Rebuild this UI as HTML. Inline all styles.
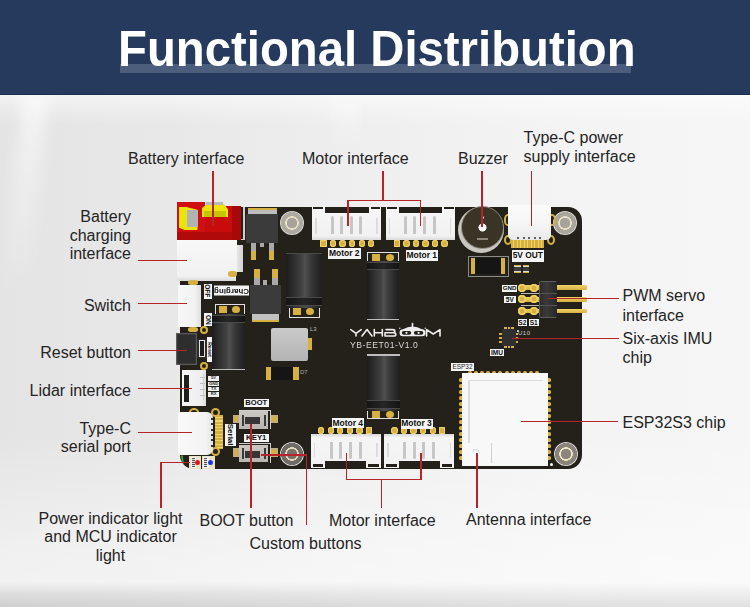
<!DOCTYPE html>
<html><head><meta charset="utf-8">
<style>
*{margin:0;padding:0;box-sizing:border-box}
html,body{width:750px;height:607px;overflow:hidden}
body{position:relative;font-family:"Liberation Sans",sans-serif;background:#ececec}
.a{position:absolute}
#bg{left:0;top:94px;width:750px;height:513px;background:linear-gradient(90deg,#e4e4e4 0%,#e8e8e8 22%,#eeeeee 45%,#f3f3f3 70%,#f6f6f6 100%)}
#bgb{left:0;top:94px;width:750px;height:513px;background:linear-gradient(180deg,rgba(255,255,255,0.55) 0px,rgba(255,255,255,0) 30px,rgba(255,255,255,0) 340px,rgba(255,255,255,0.45) 460px,rgba(255,255,255,0.5) 488px,rgba(0,0,0,0.03) 500px,rgba(0,0,0,0.09) 513px)}
#hdr{left:0;top:0;width:750px;height:95px;background:#263a5e;border-bottom:1px solid #1d2d4d}
#bar{left:120px;top:63.5px;width:511px;height:9.5px;background:#4d5e7c}
#title{left:118px;top:18.5px;font-weight:bold;font-size:50px;line-height:60px;color:#fff;white-space:nowrap;transform:scaleX(0.946);transform-origin:0 0}
.t{position:absolute;font-size:16px;line-height:19px;color:#242424;white-space:nowrap}
.r{text-align:right}
.c{text-align:center}
.ln{position:absolute;background:#b8232a}
.h{height:1.5px}
.v{width:1.5px}
#board{left:180px;top:206.5px;width:402px;height:262.5px;background:#24211a;border-radius:14px}
.hole{position:absolute;border-radius:50%;background:radial-gradient(circle,#a8a49a 0 4px,#c9a83e 4px 6.5px,#a39f95 6.5px 9px,#8c887e 9px 12px)}
.lbl{position:absolute;background:#f5f5f5;color:#111;font-weight:bold;font-size:8.5px;line-height:10px;text-align:center;white-space:nowrap;overflow:hidden}
.wc{position:absolute;background:#f2f2f2}
.cap{position:absolute;background:linear-gradient(90deg,#232323 0%,#3a3a3a 45%,#444 55%,#2a2a2a 100%)}
</style></head><body>
<div id="bg" class="a"></div>
<div id="bgb" class="a"></div>
<div class="a" style="left:12px;top:95px;width:26px;height:200px;background:linear-gradient(180deg,rgba(255,255,255,0.55),rgba(255,255,255,0));filter:blur(6px);transform:skewX(-6deg)"></div>
<div class="a" style="left:330px;top:95px;width:30px;height:60px;background:linear-gradient(180deg,rgba(255,255,255,0.35),rgba(255,255,255,0));filter:blur(6px)"></div>
<div id="hdr" class="a"></div>
<div id="bar" class="a"></div>
<div id="title" class="a">Functional Distribution</div>

<!-- board -->
<div id="board" class="a"></div>
<div class="a" style="left:243.00px;top:207.00px;width:2.00px;height:32.00px;background:#cfcfcf"></div>
<div class="a" style="left:236.00px;top:238.50px;width:9.00px;height:1.50px;background:#cfcfcf"></div>
<div class="a" style="left:177.00px;top:201.50px;width:28.00px;height:38.00px;background:#d01010"></div>
<div class="a" style="left:205.00px;top:205.50px;width:35.50px;height:34.00px;background:#c80c0c"></div>
<div class="a" style="left:177.00px;top:232.00px;width:63.50px;height:7.50px;background:#b00a0a"></div>
<div class="a" style="left:232.00px;top:205.50px;width:8.50px;height:34.00px;background:#a80808"></div>
<div class="a" style="left:179.00px;top:207.00px;width:18.50px;height:23.00px;background:#e9e40a;clip-path:polygon(0 0,40% 0,100% 12%,100% 100%,30% 100%,0 90%)"></div>
<div class="a" style="left:186.50px;top:210.00px;width:11.00px;height:17.00px;background:#b2b2b2"></div>
<div class="a" style="left:202.00px;top:203.00px;width:26.00px;height:14.00px;background:#eee60a;clip-path:polygon(0 35%,25% 0,80% 0,100% 45%,100% 100%,0 100%)"></div>
<div class="a" style="left:206.00px;top:202.00px;width:16.50px;height:3.00px;background:#b8b8b8"></div>
<div class="a" style="left:204.00px;top:211.00px;width:22.00px;height:6.00px;background:#c9c40a"></div>
<div class="a" style="left:176.50px;top:239.50px;width:60.50px;height:41.50px;background:linear-gradient(180deg,#f8f8f8 0%,#f1f1f1 88%,#d9d9d9 100%)"></div>
<div class="a" style="left:237.00px;top:245.00px;width:6.00px;height:27.00px;background:linear-gradient(90deg,#e6e6e6,#d2d2d2)"></div>
<div class="a" style="left:236.00px;top:273.00px;width:8.00px;height:8.00px;background:#24211a"></div>
<div class="a" style="left:227.50px;top:270.50px;width:9.00px;height:6.00px;background:#d6b041;border-radius:40%"></div>
<div class="a" style="left:247.50px;top:207.50px;width:29.50px;height:7.00px;background:#bdbdbd;border-top:2px solid #d6b041"></div>
<div class="a" style="left:245.50px;top:214.00px;width:32.50px;height:29.00px;background:#3b3b3b"></div>
<div class="a" style="left:250.50px;top:243.00px;width:5.50px;height:8.00px;background:#a9a9a9"></div>
<div class="a" style="left:250.50px;top:251.00px;width:5.50px;height:9.00px;background:#d6b041"></div>
<div class="a" style="left:268.50px;top:243.00px;width:5.50px;height:8.00px;background:#a9a9a9"></div>
<div class="a" style="left:268.50px;top:251.00px;width:5.50px;height:9.00px;background:#d6b041"></div>
<div class="a" style="left:259.50px;top:243.00px;width:4.00px;height:4.00px;background:#a9a9a9"></div>
<div class="lbl" style="left:280.00px;top:206.50px;width:5.00px;height:5.50px;font-size:6px;line-height:5.5px;letter-spacing:0px;background:transparent"></div>
<div class="a" style="left:280.30px;top:210.80px;width:24.00px;height:24.00px;border-radius:50%;background:radial-gradient(circle at 50% 50%,#a7a39c 0 5px,#e9dfc4 5.3px 6.6px,#aeaaa2 7px 10.8px,#d8d6d0 11.2px 12px)"></div>
<div class="a" style="left:553.00px;top:210.80px;width:24.00px;height:24.00px;border-radius:50%;background:radial-gradient(circle at 50% 50%,#a7a39c 0 5px,#e9dfc4 5.3px 6.6px,#aaa69e 7px 10.8px,#d8d6d0 11.2px 12px)"></div>
<div class="a" style="left:280.30px;top:441.60px;width:24.00px;height:24.00px;border-radius:50%;background:radial-gradient(circle at 50% 50%,#76726c 0 5px,#e6d9b8 5.3px 6.6px,#6f6b66 7px 10.8px,#d8d6d0 11.2px 12px)"></div>
<div class="a" style="left:553.80px;top:441.60px;width:24.00px;height:24.00px;border-radius:50%;background:radial-gradient(circle at 50% 50%,#8c867e 0 5px,#efe4c4 5.3px 6.6px,#8a847c 7px 10.8px,#d8d6d0 11.2px 12px)"></div>
<div class="a" style="left:312.20px;top:207.00px;width:69.00px;height:32.50px;background:linear-gradient(180deg,#f7f7f7 0%,#f1f1f1 88%,#dadada 100%)"></div>
<div class="a" style="left:325.20px;top:207.00px;width:43.50px;height:5.50px;background:#24211a"></div>
<div class="a" style="left:313.20px;top:207.00px;width:10.00px;height:1.80px;background:#24211a"></div>
<div class="a" style="left:370.70px;top:207.00px;width:9.50px;height:1.80px;background:#24211a"></div>
<div class="a" style="left:330.50px;top:216.00px;width:3.00px;height:18.00px;background:#c6c6c6;border-radius:1.5px 1.5px 0 0"></div>
<div class="a" style="left:340.10px;top:216.00px;width:3.00px;height:18.00px;background:#c6c6c6;border-radius:1.5px 1.5px 0 0"></div>
<div class="a" style="left:349.70px;top:216.00px;width:3.00px;height:18.00px;background:#c6c6c6;border-radius:1.5px 1.5px 0 0"></div>
<div class="a" style="left:359.30px;top:216.00px;width:3.00px;height:18.00px;background:#c6c6c6;border-radius:1.5px 1.5px 0 0"></div>
<div class="a" style="left:315.20px;top:218.00px;width:1.50px;height:16.00px;background:#dcdcdc"></div>
<div class="a" style="left:376.20px;top:218.00px;width:1.50px;height:16.00px;background:#dcdcdc"></div>
<div class="a" style="left:320.30px;top:239.50px;width:6.40px;height:7.00px;background:#d6b041;border-radius:1px;box-shadow:inset 0 0 0 1px #f0d468"></div>
<div class="a" style="left:329.85px;top:239.50px;width:6.40px;height:7.00px;background:#d6b041;border-radius:50%;box-shadow:inset 0 0 0 1px #f0d468"></div>
<div class="a" style="left:339.40px;top:239.50px;width:6.40px;height:7.00px;background:#d6b041;border-radius:50%;box-shadow:inset 0 0 0 1px #f0d468"></div>
<div class="a" style="left:348.95px;top:239.50px;width:6.40px;height:7.00px;background:#d6b041;border-radius:50%;box-shadow:inset 0 0 0 1px #f0d468"></div>
<div class="a" style="left:358.50px;top:239.50px;width:6.40px;height:7.00px;background:#d6b041;border-radius:50%;box-shadow:inset 0 0 0 1px #f0d468"></div>
<div class="a" style="left:368.05px;top:239.50px;width:6.40px;height:7.00px;background:#d6b041;border-radius:50%;box-shadow:inset 0 0 0 1px #f0d468"></div>
<div class="a" style="left:385.50px;top:207.00px;width:69.00px;height:32.50px;background:linear-gradient(180deg,#f7f7f7 0%,#f1f1f1 88%,#dadada 100%)"></div>
<div class="a" style="left:398.50px;top:207.00px;width:43.50px;height:5.50px;background:#24211a"></div>
<div class="a" style="left:386.50px;top:207.00px;width:10.00px;height:1.80px;background:#24211a"></div>
<div class="a" style="left:444.00px;top:207.00px;width:9.50px;height:1.80px;background:#24211a"></div>
<div class="a" style="left:403.80px;top:216.00px;width:3.00px;height:18.00px;background:#c6c6c6;border-radius:1.5px 1.5px 0 0"></div>
<div class="a" style="left:413.40px;top:216.00px;width:3.00px;height:18.00px;background:#c6c6c6;border-radius:1.5px 1.5px 0 0"></div>
<div class="a" style="left:423.00px;top:216.00px;width:3.00px;height:18.00px;background:#c6c6c6;border-radius:1.5px 1.5px 0 0"></div>
<div class="a" style="left:432.60px;top:216.00px;width:3.00px;height:18.00px;background:#c6c6c6;border-radius:1.5px 1.5px 0 0"></div>
<div class="a" style="left:388.50px;top:218.00px;width:1.50px;height:16.00px;background:#dcdcdc"></div>
<div class="a" style="left:449.50px;top:218.00px;width:1.50px;height:16.00px;background:#dcdcdc"></div>
<div class="a" style="left:393.60px;top:239.50px;width:6.40px;height:7.00px;background:#d6b041;border-radius:1px;box-shadow:inset 0 0 0 1px #f0d468"></div>
<div class="a" style="left:403.15px;top:239.50px;width:6.40px;height:7.00px;background:#d6b041;border-radius:50%;box-shadow:inset 0 0 0 1px #f0d468"></div>
<div class="a" style="left:412.70px;top:239.50px;width:6.40px;height:7.00px;background:#d6b041;border-radius:50%;box-shadow:inset 0 0 0 1px #f0d468"></div>
<div class="a" style="left:422.25px;top:239.50px;width:6.40px;height:7.00px;background:#d6b041;border-radius:50%;box-shadow:inset 0 0 0 1px #f0d468"></div>
<div class="a" style="left:431.80px;top:239.50px;width:6.40px;height:7.00px;background:#d6b041;border-radius:50%;box-shadow:inset 0 0 0 1px #f0d468"></div>
<div class="a" style="left:441.35px;top:239.50px;width:6.40px;height:7.00px;background:#d6b041;border-radius:50%;box-shadow:inset 0 0 0 1px #f0d468"></div>
<div class="a" style="left:310.70px;top:433.50px;width:70.00px;height:34.50px;background:linear-gradient(180deg,#d9d9d9 0%,#f5f5f5 11%,#f2f2f2 100%)"></div>
<div class="a" style="left:325.20px;top:460.70px;width:41.00px;height:8.30px;background:#24211a"></div>
<div class="a" style="left:312.70px;top:463.80px;width:10.50px;height:3.40px;background:#24211a"></div>
<div class="a" style="left:368.20px;top:463.80px;width:10.50px;height:3.40px;background:#24211a"></div>
<div class="a" style="left:329.70px;top:441.50px;width:3.00px;height:17.00px;background:#c6c6c6;border-radius:0 0 1.5px 1.5px"></div>
<div class="a" style="left:339.30px;top:441.50px;width:3.00px;height:17.00px;background:#c6c6c6;border-radius:0 0 1.5px 1.5px"></div>
<div class="a" style="left:348.90px;top:441.50px;width:3.00px;height:17.00px;background:#c6c6c6;border-radius:0 0 1.5px 1.5px"></div>
<div class="a" style="left:358.50px;top:441.50px;width:3.00px;height:17.00px;background:#c6c6c6;border-radius:0 0 1.5px 1.5px"></div>
<div class="a" style="left:313.70px;top:442.50px;width:1.50px;height:14.00px;background:#dcdcdc"></div>
<div class="a" style="left:376.20px;top:442.50px;width:1.50px;height:14.00px;background:#dcdcdc"></div>
<div class="a" style="left:318.00px;top:427.00px;width:6.40px;height:7.00px;background:#d6b041;border-radius:50%;box-shadow:inset 0 0 0 1px #f0d468"></div>
<div class="a" style="left:327.55px;top:427.00px;width:6.40px;height:7.00px;background:#d6b041;border-radius:50%;box-shadow:inset 0 0 0 1px #f0d468"></div>
<div class="a" style="left:337.10px;top:427.00px;width:6.40px;height:7.00px;background:#d6b041;border-radius:50%;box-shadow:inset 0 0 0 1px #f0d468"></div>
<div class="a" style="left:346.65px;top:427.00px;width:6.40px;height:7.00px;background:#d6b041;border-radius:50%;box-shadow:inset 0 0 0 1px #f0d468"></div>
<div class="a" style="left:356.20px;top:427.00px;width:6.40px;height:7.00px;background:#d6b041;border-radius:50%;box-shadow:inset 0 0 0 1px #f0d468"></div>
<div class="a" style="left:365.75px;top:427.00px;width:6.40px;height:7.00px;background:#d6b041;border-radius:1px;box-shadow:inset 0 0 0 1px #f0d468"></div>
<div class="a" style="left:384.00px;top:433.50px;width:70.00px;height:34.50px;background:linear-gradient(180deg,#d9d9d9 0%,#f5f5f5 11%,#f2f2f2 100%)"></div>
<div class="a" style="left:398.50px;top:460.70px;width:41.00px;height:8.30px;background:#24211a"></div>
<div class="a" style="left:386.00px;top:463.80px;width:10.50px;height:3.40px;background:#24211a"></div>
<div class="a" style="left:441.50px;top:463.80px;width:10.50px;height:3.40px;background:#24211a"></div>
<div class="a" style="left:403.00px;top:441.50px;width:3.00px;height:17.00px;background:#c6c6c6;border-radius:0 0 1.5px 1.5px"></div>
<div class="a" style="left:412.60px;top:441.50px;width:3.00px;height:17.00px;background:#c6c6c6;border-radius:0 0 1.5px 1.5px"></div>
<div class="a" style="left:422.20px;top:441.50px;width:3.00px;height:17.00px;background:#c6c6c6;border-radius:0 0 1.5px 1.5px"></div>
<div class="a" style="left:431.80px;top:441.50px;width:3.00px;height:17.00px;background:#c6c6c6;border-radius:0 0 1.5px 1.5px"></div>
<div class="a" style="left:387.00px;top:442.50px;width:1.50px;height:14.00px;background:#dcdcdc"></div>
<div class="a" style="left:449.50px;top:442.50px;width:1.50px;height:14.00px;background:#dcdcdc"></div>
<div class="a" style="left:391.30px;top:427.00px;width:6.40px;height:7.00px;background:#d6b041;border-radius:50%;box-shadow:inset 0 0 0 1px #f0d468"></div>
<div class="a" style="left:400.85px;top:427.00px;width:6.40px;height:7.00px;background:#d6b041;border-radius:50%;box-shadow:inset 0 0 0 1px #f0d468"></div>
<div class="a" style="left:410.40px;top:427.00px;width:6.40px;height:7.00px;background:#d6b041;border-radius:50%;box-shadow:inset 0 0 0 1px #f0d468"></div>
<div class="a" style="left:419.95px;top:427.00px;width:6.40px;height:7.00px;background:#d6b041;border-radius:50%;box-shadow:inset 0 0 0 1px #f0d468"></div>
<div class="a" style="left:429.50px;top:427.00px;width:6.40px;height:7.00px;background:#d6b041;border-radius:50%;box-shadow:inset 0 0 0 1px #f0d468"></div>
<div class="a" style="left:439.05px;top:427.00px;width:6.40px;height:7.00px;background:#d6b041;border-radius:1px;box-shadow:inset 0 0 0 1px #f0d468"></div>
<div class="lbl" style="left:328.00px;top:248.00px;width:32.50px;height:11.00px;font-size:8.5px;line-height:11px;letter-spacing:0px;">Motor 2</div>
<div class="lbl" style="left:406.00px;top:250.00px;width:31.50px;height:10.50px;font-size:8.5px;line-height:10.5px;letter-spacing:0px;">Motor 1</div>
<div class="lbl" style="left:332.00px;top:417.50px;width:31.50px;height:10.00px;font-size:8.5px;line-height:10.0px;letter-spacing:0px;">Motor 4</div>
<div class="lbl" style="left:400.50px;top:419.00px;width:32.00px;height:9.50px;font-size:8.5px;line-height:9.5px;letter-spacing:0px;">Motor 3</div>
<div class="a" style="left:457.50px;top:206.50px;width:46.00px;height:46.00px;background:#c9c7c1;border-radius:50%"></div>
<div class="a" style="left:461.00px;top:205.50px;width:43.00px;height:43.00px;background:radial-gradient(circle at 50% 50%,#f7f8fa 0 3.8px,#3a3426 4.3px);border-radius:50%;border:1px solid #8d887c"></div>
<div class="a" style="left:477.00px;top:238.00px;width:11.00px;height:2.00px;background:#8a8678"></div>
<div class="a" style="left:481.00px;top:216.00px;width:3.00px;height:3.00px;background:#ddd;border-radius:50%"></div>
<div class="a" style="left:511.00px;top:239.00px;width:33.00px;height:8.50px;background:repeating-linear-gradient(90deg,#d6b041 0 2.5px,#f0d468 2.5px 3.5px)"></div>
<div class="a" style="left:503.50px;top:213.50px;width:7.50px;height:12.00px;border:2px solid #d6b041;border-radius:50%"></div>
<div class="a" style="left:548.00px;top:213.50px;width:7.50px;height:12.00px;border:2px solid #d6b041;border-radius:50%"></div>
<div class="a" style="left:504.00px;top:235.00px;width:8.00px;height:10.00px;border:2px solid #d6b041;border-radius:50%"></div>
<div class="a" style="left:547.00px;top:235.00px;width:8.00px;height:10.00px;border:2px solid #d6b041;border-radius:50%"></div>
<div class="a" style="left:507.50px;top:205.00px;width:43.50px;height:34.50px;background:linear-gradient(180deg,#fbfbfb 0%,#f4f4f4 60%,#e9e9e9 100%);border-radius:0 0 5px 5px"></div>
<div class="a" style="left:517.00px;top:237.00px;width:2.00px;height:2.00px;background:#333;border-radius:50%"></div>
<div class="a" style="left:522.50px;top:237.00px;width:2.00px;height:2.00px;background:#333;border-radius:50%"></div>
<div class="a" style="left:528.00px;top:237.00px;width:2.00px;height:2.00px;background:#333;border-radius:50%"></div>
<div class="a" style="left:533.50px;top:237.00px;width:2.00px;height:2.00px;background:#333;border-radius:50%"></div>
<div class="a" style="left:539.00px;top:237.00px;width:2.00px;height:2.00px;background:#333;border-radius:50%"></div>
<div class="lbl" style="left:511.50px;top:250.00px;width:32.50px;height:11.50px;font-size:8.4px;line-height:11.5px;letter-spacing:0px;">5V OUT</div>
<div class="a" style="left:467.50px;top:255.50px;width:41.50px;height:21.00px;border:1.2px solid #8a8a8a;background:#24211a"></div>
<div class="a" style="left:471.00px;top:258.00px;width:34.00px;height:16.00px;background:linear-gradient(90deg,#d6b041 0 4px,#151515 4px 30px,#d6b041 30px)"></div>
<div class="a" style="left:514.00px;top:264.50px;width:6.50px;height:8.50px;background:linear-gradient(180deg,#d8d8d8 0 2px,#3a3a3a 2px 6.5px,#d8d8d8 6.5px)"></div>
<div class="a" style="left:514.00px;top:264.50px;width:6.50px;height:1.30px;background:#d6b041"></div>
<div class="a" style="left:514.00px;top:271.70px;width:6.50px;height:1.30px;background:#d6b041"></div>
<div class="a" style="left:522.50px;top:264.50px;width:6.50px;height:8.50px;background:linear-gradient(180deg,#d8d8d8 0 2px,#3a3a3a 2px 6.5px,#d8d8d8 6.5px)"></div>
<div class="a" style="left:522.50px;top:264.50px;width:6.50px;height:1.30px;background:#d6b041"></div>
<div class="a" style="left:522.50px;top:271.70px;width:6.50px;height:1.30px;background:#d6b041"></div>
<div class="a" style="left:286.00px;top:252.50px;width:35.50px;height:55.50px;background:linear-gradient(90deg,#1c1c1c 0%,#2c2c2c 18%,#404040 42%,#505050 52%,#383838 70%,#1e1e1e 100%);border-radius:1px"></div>
<div class="a" style="left:286.00px;top:252.50px;width:35.50px;height:1.50px;background:#4a4a4a"></div>
<div class="a" style="left:286.00px;top:297.00px;width:35.50px;height:9.00px;background:linear-gradient(90deg,#141414,#262626 50%,#141414);border-top:1px solid #4a4a4a;border-bottom:1px solid #4a4a4a"></div>
<div class="a" style="left:288.50px;top:308.00px;width:31.00px;height:10.00px;border:1.2px solid #e0e0e0;border-top:none;background:#24211a"></div>
<div class="a" style="left:293.15px;top:308.00px;width:7.75px;height:7.00px;background:#d6b041"></div>
<div class="a" style="left:306.48px;top:308.00px;width:7.75px;height:7.00px;background:#d6b041;border-radius:50%"></div>
<div class="a" style="left:254.00px;top:269.00px;width:6.00px;height:9.00px;background:#d6b041"></div>
<div class="a" style="left:254.00px;top:278.00px;width:6.00px;height:7.00px;background:#a9a9a9"></div>
<div class="a" style="left:272.00px;top:269.00px;width:6.00px;height:9.00px;background:#d6b041"></div>
<div class="a" style="left:272.00px;top:278.00px;width:6.00px;height:7.00px;background:#a9a9a9"></div>
<div class="a" style="left:262.50px;top:280.00px;width:4.50px;height:5.00px;background:#a9a9a9"></div>
<div class="a" style="left:249.50px;top:284.50px;width:31.50px;height:29.50px;background:#3b3b3b"></div>
<div class="a" style="left:252.00px;top:314.00px;width:27.00px;height:7.50px;background:#c2c2c2;border-bottom:2.5px solid #d6b041"></div>
<div class="a" style="left:170.00px;top:298.50px;width:8.00px;height:5.00px;background:#eaeaea"></div>
<div class="a" style="left:178.00px;top:284.50px;width:22.50px;height:42.50px;background:linear-gradient(90deg,#f8f8f8 0%,#f1f1f1 75%,#dedede 100%)"></div>
<div class="a" style="left:188.00px;top:280.00px;width:10.00px;height:5.00px;background:#d6b041;border-radius:40%"></div>
<div class="a" style="left:188.00px;top:326.50px;width:10.00px;height:5.00px;background:#d6b041;border-radius:40%"></div>
<div class="a" style="left:204.00px;top:283.50px;width:7.50px;height:15.00px;background:#f5f5f5;overflow:hidden"><div style="position:absolute;left:-3.75px;top:3.75px;width:15.00px;height:7.50px;line-height:7.50px;font-size:6.5px;font-weight:bold;color:#111;text-align:center;white-space:nowrap;transform:rotate(90deg)">OFF</div></div>
<div class="a" style="left:204.00px;top:312.50px;width:7.50px;height:13.50px;background:#f5f5f5;overflow:hidden"><div style="position:absolute;left:-3.00px;top:3.00px;width:13.50px;height:7.50px;line-height:7.50px;font-size:6.5px;font-weight:bold;color:#111;text-align:center;white-space:nowrap;transform:rotate(90deg)">ON</div></div>
<div class="lbl" style="left:214.00px;top:285.50px;width:35.00px;height:9.50px;font-size:7.8px;line-height:9.5px;letter-spacing:0.1px;transform:rotate(180deg)">Charging</div>
<div class="a" style="left:214.50px;top:304.00px;width:30.50px;height:10.00px;border:1.2px solid #e0e0e0;border-bottom:none;background:#24211a"></div>
<div class="a" style="left:219.07px;top:306.00px;width:7.62px;height:7.00px;background:#d6b041"></div>
<div class="a" style="left:232.19px;top:306.00px;width:7.62px;height:7.00px;background:#d6b041;border-radius:50%"></div>
<div class="a" style="left:211.50px;top:313.90px;width:33.00px;height:56.50px;background:linear-gradient(90deg,#1c1c1c 0%,#2c2c2c 18%,#404040 42%,#505050 52%,#383838 70%,#1e1e1e 100%);border-radius:1px"></div>
<div class="a" style="left:211.50px;top:368.90px;width:33.00px;height:1.50px;background:#bdbdbd"></div>
<div class="a" style="left:211.50px;top:314.90px;width:33.00px;height:8.00px;background:linear-gradient(90deg,#141414,#262626 50%,#141414);border-bottom:1px solid #4a4a4a;border-top:1px solid #4a4a4a"></div>
<div class="a" style="left:170.00px;top:341.00px;width:6.50px;height:14.00px;background:#e9e9e9"></div>
<div class="a" style="left:176.30px;top:333.40px;width:21.00px;height:31.60px;background:#2e2e2e;box-shadow:inset 0 0 0 1.2px #5a5a5a"></div>
<div class="a" style="left:197.30px;top:338.90px;width:9.70px;height:19.50px;background:#2e2e2e"></div>
<div class="a" style="left:198.60px;top:340.20px;width:6.40px;height:17.00px;border:1.2px solid #e0e0e0;background:#1c1c1c"></div>
<div class="a" style="left:199.80px;top:326.20px;width:8.00px;height:8.00px;border:2px solid #d6b041;border-radius:50%;background:#24211a"></div>
<div class="a" style="left:199.80px;top:362.00px;width:8.00px;height:8.00px;border:2px solid #d6b041;border-radius:50%;background:#24211a"></div>
<div class="a" style="left:207.00px;top:336.70px;width:4.80px;height:25.00px;background:#f5f5f5;overflow:hidden"><div style="position:absolute;left:-10.10px;top:10.10px;width:25.00px;height:4.80px;line-height:4.80px;font-size:5.5px;font-weight:bold;color:#111;text-align:center;white-space:nowrap;transform:rotate(90deg)">Reset</div></div>
<div class="a" style="left:307.00px;top:338.00px;width:4.50px;height:12.00px;background:#d6b041"></div>
<div class="a" style="left:270.50px;top:327.50px;width:37.00px;height:33.00px;background:linear-gradient(180deg,#cacaca 0%,#b3b3b3 100%);border-radius:2px"></div>
<div class="a" style="left:310.00px;top:326.00px;width:8.00px;height:7.00px;color:#bbb;font-size:6px;line-height:7px">L3</div>
<div class="a" style="left:266.00px;top:367.00px;width:33.00px;height:13.00px;background:linear-gradient(90deg,#d6b041 0 5.5px,#151515 5.5px 27.5px,#d6b041 27.5px)"></div>
<div class="a" style="left:300.00px;top:368.00px;width:10.00px;height:9.00px;color:#aaa;font-size:6px;line-height:9px">D7</div>
<div class="a" style="left:367.00px;top:252.00px;width:32.00px;height:9.00px;border:1.2px solid #e0e0e0;border-bottom:none;background:#24211a"></div>
<div class="a" style="left:371.80px;top:254.00px;width:8.00px;height:7.00px;background:#d6b041"></div>
<div class="a" style="left:385.56px;top:254.00px;width:8.00px;height:7.00px;background:#d6b041;border-radius:50%"></div>
<div class="a" style="left:367.00px;top:260.80px;width:32.00px;height:59.20px;background:linear-gradient(90deg,#1c1c1c 0%,#2c2c2c 18%,#404040 42%,#505050 52%,#383838 70%,#1e1e1e 100%);border-radius:1px"></div>
<div class="a" style="left:367.00px;top:318.50px;width:32.00px;height:1.50px;background:#bdbdbd"></div>
<div class="a" style="left:367.00px;top:261.80px;width:32.00px;height:8.00px;background:linear-gradient(90deg,#141414,#262626 50%,#141414);border-bottom:1px solid #4a4a4a;border-top:1px solid #4a4a4a"></div>
<div class="a" style="left:366.50px;top:354.40px;width:33.30px;height:56.60px;background:linear-gradient(90deg,#1c1c1c 0%,#2c2c2c 18%,#404040 42%,#505050 52%,#383838 70%,#1e1e1e 100%);border-radius:1px"></div>
<div class="a" style="left:366.50px;top:354.40px;width:33.30px;height:1.50px;background:#bdbdbd"></div>
<div class="a" style="left:366.50px;top:400.00px;width:33.30px;height:9.00px;background:linear-gradient(90deg,#141414,#262626 50%,#141414);border-top:1px solid #4a4a4a;border-bottom:1px solid #4a4a4a"></div>
<div class="a" style="left:367.00px;top:411.00px;width:32.00px;height:8.40px;border:1.2px solid #e0e0e0;border-top:none;background:#24211a"></div>
<div class="a" style="left:371.80px;top:411.00px;width:8.00px;height:7.00px;background:#d6b041"></div>
<div class="a" style="left:385.56px;top:411.00px;width:8.00px;height:7.00px;background:#d6b041;border-radius:50%"></div>
<svg class="a" style="left:345px;top:318px" width="100" height="24" viewBox="345 318 100 24">
<g fill="none" stroke="#eeeeee" stroke-width="1.6" stroke-linejoin="round" stroke-linecap="round">
<path d="M350.8 329.6 L356 333.4 L361.2 329.6 M356 333.4 V336"/>
<path d="M362 336 L367 329.6 L372 336"/>
<path d="M374.3 329.6 V336 M382.3 329.6 V336 M374.3 332.8 H382.3"/>
<path d="M385 332.8 V336 H393.8 Q395.8 336 395.8 334.4 Q395.8 332.8 393.8 332.8 H385 M386 329.6 H392.8 Q394.8 329.6 394.8 331.2 Q394.8 332.8 392.8 332.8"/>
<path d="M426.6 336 V329.6 L433.3 334 L440 329.6 V336"/>
<path d="M412.5 323.5 V326.5"/>
</g>
<path d="M399.5 332.7 Q399.5 329.2 403 329.2 Q412.5 323.8 422 329.2 Q425.6 329.2 425.6 332.7 Q425.6 336.2 422 336.2 H403 Q399.5 336.2 399.5 332.7 Z" fill="#eeeeee"/>
<rect x="401.8" y="330.9" width="9.4" height="3.9" rx="1.95" fill="#24211a"/>
<rect x="413.9" y="330.9" width="9.4" height="3.9" rx="1.95" fill="#24211a"/>
<circle cx="406.5" cy="332.85" r="1.1" fill="#eeeeee"/>
<circle cx="418.6" cy="332.85" r="1.1" fill="#eeeeee"/>
<circle cx="399.8" cy="328.2" r="0.7" fill="#eeeeee"/>
<circle cx="425.2" cy="328.2" r="0.7" fill="#eeeeee"/>
</svg>
<div class="a" style="left:350.00px;top:339.50px;width:80.00px;height:10.50px;color:#d8d8d8;font-size:8.6px;line-height:10px;letter-spacing:0.55px;white-space:nowrap;transform:scaleY(0.95)">YB-EET01-V1.0</div>
<div class="a" style="left:520.00px;top:285.30px;width:66.50px;height:4.60px;background:linear-gradient(180deg,#f0d468,#d6b041);border-radius:2px"></div>
<div class="a" style="left:518.00px;top:283.60px;width:8.00px;height:8.00px;background:#d6b041;border-radius:50%;box-shadow:inset 0 0 0 1.5px #f0d468"></div>
<div class="a" style="left:530.00px;top:283.60px;width:8.00px;height:8.00px;background:#d6b041;border-radius:50%;box-shadow:inset 0 0 0 1.5px #f0d468"></div>
<div class="a" style="left:520.00px;top:297.10px;width:66.50px;height:4.60px;background:linear-gradient(180deg,#f0d468,#d6b041);border-radius:2px"></div>
<div class="a" style="left:518.00px;top:295.40px;width:8.00px;height:8.00px;background:#d6b041;border-radius:50%;box-shadow:inset 0 0 0 1.5px #f0d468"></div>
<div class="a" style="left:530.00px;top:295.40px;width:8.00px;height:8.00px;background:#d6b041;border-radius:50%;box-shadow:inset 0 0 0 1.5px #f0d468"></div>
<div class="a" style="left:520.00px;top:308.70px;width:66.50px;height:4.60px;background:linear-gradient(180deg,#f0d468,#d6b041);border-radius:2px"></div>
<div class="a" style="left:518.00px;top:307.00px;width:8.00px;height:8.00px;background:#d6b041;border-radius:50%;box-shadow:inset 0 0 0 1.5px #f0d468"></div>
<div class="a" style="left:530.00px;top:307.00px;width:8.00px;height:8.00px;background:#d6b041;border-radius:50%;box-shadow:inset 0 0 0 1.5px #f0d468"></div>
<div class="a" style="left:538.50px;top:280.50px;width:18.50px;height:37.00px;background:#5c5c5c;border-radius:2px"></div>
<div class="a" style="left:540.00px;top:281.50px;width:16.50px;height:35.00px;background:linear-gradient(90deg,#2c2c2c,#3a3a3a 40%,#262626)"></div>
<div class="a" style="left:538.00px;top:293.20px;width:19.00px;height:1.00px;background:#555"></div>
<div class="a" style="left:538.00px;top:305.00px;width:19.00px;height:1.00px;background:#555"></div>
<div class="a" style="left:557.00px;top:285.30px;width:29.50px;height:4.60px;background:linear-gradient(180deg,#f0d468,#d6b041);border-radius:0 2px 2px 0"></div>
<div class="a" style="left:557.00px;top:297.10px;width:29.50px;height:4.60px;background:linear-gradient(180deg,#f0d468,#d6b041);border-radius:0 2px 2px 0"></div>
<div class="a" style="left:557.00px;top:308.70px;width:29.50px;height:4.60px;background:linear-gradient(180deg,#f0d468,#d6b041);border-radius:0 2px 2px 0"></div>
<div class="a" style="left:521.00px;top:293.00px;width:18.00px;height:1.00px;background:#bbb"></div>
<div class="a" style="left:521.00px;top:305.00px;width:18.00px;height:1.00px;background:#bbb"></div>
<div class="lbl" style="left:502.40px;top:284.80px;width:14.40px;height:6.80px;font-size:6.2px;line-height:6.800000000000011px;letter-spacing:0px;">GND</div>
<div class="lbl" style="left:503.60px;top:296.20px;width:12.40px;height:7.00px;font-size:6.6px;line-height:7.0px;letter-spacing:0px;">5V</div>
<div class="lbl" style="left:518.00px;top:318.80px;width:8.60px;height:7.00px;font-size:6.6px;line-height:7.0px;letter-spacing:0px;">S2</div>
<div class="lbl" style="left:529.00px;top:318.80px;width:9.50px;height:7.00px;font-size:6.6px;line-height:7.0px;letter-spacing:0px;">S1</div>
<div class="a" style="left:504.00px;top:326.80px;width:2.60px;height:2.70px;background:#d6b041"></div>
<div class="a" style="left:504.00px;top:345.50px;width:2.60px;height:2.70px;background:#d6b041"></div>
<div class="a" style="left:507.50px;top:326.80px;width:2.60px;height:2.70px;background:#d6b041"></div>
<div class="a" style="left:507.50px;top:345.50px;width:2.60px;height:2.70px;background:#d6b041"></div>
<div class="a" style="left:511.00px;top:326.80px;width:2.60px;height:2.70px;background:#d6b041"></div>
<div class="a" style="left:511.00px;top:345.50px;width:2.60px;height:2.70px;background:#d6b041"></div>
<div class="a" style="left:499.30px;top:332.50px;width:3.00px;height:2.60px;background:#d6b041"></div>
<div class="a" style="left:514.70px;top:332.50px;width:3.00px;height:2.60px;background:#d6b041"></div>
<div class="a" style="left:499.30px;top:336.50px;width:3.00px;height:2.60px;background:#d6b041"></div>
<div class="a" style="left:514.70px;top:336.50px;width:3.00px;height:2.60px;background:#d6b041"></div>
<div class="a" style="left:499.30px;top:340.50px;width:3.00px;height:2.60px;background:#d6b041"></div>
<div class="a" style="left:514.70px;top:340.50px;width:3.00px;height:2.60px;background:#d6b041"></div>
<div class="a" style="left:501.50px;top:328.80px;width:14.00px;height:17.40px;background:#2f2f2f;border-radius:1px"></div>
<div class="a" style="left:516.50px;top:329.50px;width:2.00px;height:2.00px;background:#eee;border-radius:50%"></div>
<div class="a" style="left:518.00px;top:330.00px;width:14.00px;height:6.00px;color:#ccc;font-size:6px;line-height:6px;letter-spacing:0.5px">U10</div>
<div class="lbl" style="left:489.60px;top:349.00px;width:14.80px;height:7.20px;font-size:6.6px;line-height:7.199999999999989px;letter-spacing:0px;">IMU</div>
<div class="lbl" style="left:450.70px;top:363.40px;width:23.70px;height:7.20px;font-size:6.4px;line-height:7.2000000000000455px;letter-spacing:0px;font-weight:normal;color:#222">ESP32</div>
<div class="a" style="left:467.60px;top:371.00px;width:4.00px;height:4.50px;background:#d6b041;border-radius:1.5px"></div>
<div class="a" style="left:473.75px;top:371.00px;width:4.00px;height:4.50px;background:#d6b041;border-radius:1.5px"></div>
<div class="a" style="left:479.90px;top:371.00px;width:4.00px;height:4.50px;background:#d6b041;border-radius:1.5px"></div>
<div class="a" style="left:486.05px;top:371.00px;width:4.00px;height:4.50px;background:#d6b041;border-radius:1.5px"></div>
<div class="a" style="left:492.20px;top:371.00px;width:4.00px;height:4.50px;background:#d6b041;border-radius:1.5px"></div>
<div class="a" style="left:498.35px;top:371.00px;width:4.00px;height:4.50px;background:#d6b041;border-radius:1.5px"></div>
<div class="a" style="left:504.50px;top:371.00px;width:4.00px;height:4.50px;background:#d6b041;border-radius:1.5px"></div>
<div class="a" style="left:510.65px;top:371.00px;width:4.00px;height:4.50px;background:#d6b041;border-radius:1.5px"></div>
<div class="a" style="left:516.80px;top:371.00px;width:4.00px;height:4.50px;background:#d6b041;border-radius:1.5px"></div>
<div class="a" style="left:522.95px;top:371.00px;width:4.00px;height:4.50px;background:#d6b041;border-radius:1.5px"></div>
<div class="a" style="left:529.10px;top:371.00px;width:4.00px;height:4.50px;background:#d6b041;border-radius:1.5px"></div>
<div class="a" style="left:535.25px;top:371.00px;width:4.00px;height:4.50px;background:#d6b041;border-radius:1.5px"></div>
<div class="a" style="left:458.80px;top:378.00px;width:5.20px;height:4.00px;background:#d6b041;border-radius:1.5px"></div>
<div class="a" style="left:546.00px;top:378.00px;width:4.50px;height:4.00px;background:#d6b041;border-radius:1.5px"></div>
<div class="a" style="left:458.80px;top:384.00px;width:5.20px;height:4.00px;background:#d6b041;border-radius:1.5px"></div>
<div class="a" style="left:546.00px;top:384.00px;width:4.50px;height:4.00px;background:#d6b041;border-radius:1.5px"></div>
<div class="a" style="left:458.80px;top:390.00px;width:5.20px;height:4.00px;background:#d6b041;border-radius:1.5px"></div>
<div class="a" style="left:546.00px;top:390.00px;width:4.50px;height:4.00px;background:#d6b041;border-radius:1.5px"></div>
<div class="a" style="left:458.80px;top:396.00px;width:5.20px;height:4.00px;background:#d6b041;border-radius:1.5px"></div>
<div class="a" style="left:546.00px;top:396.00px;width:4.50px;height:4.00px;background:#d6b041;border-radius:1.5px"></div>
<div class="a" style="left:458.80px;top:402.00px;width:5.20px;height:4.00px;background:#d6b041;border-radius:1.5px"></div>
<div class="a" style="left:546.00px;top:402.00px;width:4.50px;height:4.00px;background:#d6b041;border-radius:1.5px"></div>
<div class="a" style="left:458.80px;top:408.00px;width:5.20px;height:4.00px;background:#d6b041;border-radius:1.5px"></div>
<div class="a" style="left:546.00px;top:408.00px;width:4.50px;height:4.00px;background:#d6b041;border-radius:1.5px"></div>
<div class="a" style="left:458.80px;top:414.00px;width:5.20px;height:4.00px;background:#d6b041;border-radius:1.5px"></div>
<div class="a" style="left:546.00px;top:414.00px;width:4.50px;height:4.00px;background:#d6b041;border-radius:1.5px"></div>
<div class="a" style="left:458.80px;top:420.00px;width:5.20px;height:4.00px;background:#d6b041;border-radius:1.5px"></div>
<div class="a" style="left:546.00px;top:420.00px;width:4.50px;height:4.00px;background:#d6b041;border-radius:1.5px"></div>
<div class="a" style="left:458.80px;top:426.00px;width:5.20px;height:4.00px;background:#d6b041;border-radius:1.5px"></div>
<div class="a" style="left:546.00px;top:426.00px;width:4.50px;height:4.00px;background:#d6b041;border-radius:1.5px"></div>
<div class="a" style="left:458.80px;top:432.00px;width:5.20px;height:4.00px;background:#d6b041;border-radius:1.5px"></div>
<div class="a" style="left:546.00px;top:432.00px;width:4.50px;height:4.00px;background:#d6b041;border-radius:1.5px"></div>
<div class="a" style="left:458.80px;top:438.00px;width:5.20px;height:4.00px;background:#d6b041;border-radius:1.5px"></div>
<div class="a" style="left:546.00px;top:438.00px;width:4.50px;height:4.00px;background:#d6b041;border-radius:1.5px"></div>
<div class="a" style="left:458.80px;top:444.00px;width:5.20px;height:4.00px;background:#d6b041;border-radius:1.5px"></div>
<div class="a" style="left:546.00px;top:444.00px;width:4.50px;height:4.00px;background:#d6b041;border-radius:1.5px"></div>
<div class="a" style="left:458.80px;top:450.00px;width:5.20px;height:4.00px;background:#d6b041;border-radius:1.5px"></div>
<div class="a" style="left:546.00px;top:450.00px;width:4.50px;height:4.00px;background:#d6b041;border-radius:1.5px"></div>
<div class="a" style="left:458.80px;top:456.00px;width:5.20px;height:4.00px;background:#d6b041;border-radius:1.5px"></div>
<div class="a" style="left:546.00px;top:456.00px;width:4.50px;height:4.00px;background:#d6b041;border-radius:1.5px"></div>
<div class="a" style="left:461.70px;top:372.90px;width:86.50px;height:93.10px;background:#f8f8f8"></div>
<div class="a" style="left:468.20px;top:379.50px;width:75.30px;height:1.50px;background:#dcdcdc"></div>
<div class="a" style="left:468.20px;top:379.50px;width:1.50px;height:63.00px;background:#dcdcdc"></div>
<div class="a" style="left:472.30px;top:448.80px;width:8.00px;height:8.00px;border:1px solid #d5d5d5;border-radius:50%;clip-path:inset(0 0 50% 0)"></div>
<div class="a" style="left:490.60px;top:443.30px;width:1.60px;height:19.90px;background:#cfcfcf"></div>
<div class="a" style="left:550.00px;top:462.50px;width:3.00px;height:3.00px;background:#fff;border-radius:50%"></div>
<div class="a" style="left:182.00px;top:370.40px;width:24.00px;height:35.90px;background:linear-gradient(90deg,#f6f6f6,#ededed 85%,#dcdcdc)"></div>
<div class="a" style="left:184.30px;top:374.70px;width:4.30px;height:27.20px;background:#202020"></div>
<div class="a" style="left:200.00px;top:377.00px;width:4.50px;height:1.20px;background:#bdbdbd"></div>
<div class="a" style="left:200.00px;top:383.00px;width:4.50px;height:1.20px;background:#bdbdbd"></div>
<div class="a" style="left:200.00px;top:389.00px;width:4.50px;height:1.20px;background:#bdbdbd"></div>
<div class="a" style="left:200.00px;top:395.00px;width:4.50px;height:1.20px;background:#bdbdbd"></div>
<div class="a" style="left:203.00px;top:374.00px;width:1.30px;height:26.00px;background:#cfcfcf"></div>
<div class="a" style="left:208.20px;top:376.30px;width:10.80px;height:4.60px;background:#eee;font-size:4.2px;line-height:4.6px;color:#333;text-align:center;font-weight:bold;overflow:hidden">5V</div>
<div class="a" style="left:208.20px;top:381.55px;width:10.80px;height:4.60px;background:#eee;font-size:4.2px;line-height:4.6px;color:#333;text-align:center;font-weight:bold;overflow:hidden">GND</div>
<div class="a" style="left:208.20px;top:386.80px;width:10.80px;height:4.60px;background:#eee;font-size:4.2px;line-height:4.6px;color:#333;text-align:center;font-weight:bold;overflow:hidden">TX</div>
<div class="a" style="left:208.20px;top:392.05px;width:10.80px;height:4.60px;background:#eee;font-size:4.2px;line-height:4.6px;color:#333;text-align:center;font-weight:bold;overflow:hidden">RX</div>
<div class="a" style="left:214.60px;top:415.40px;width:8.00px;height:33.40px;background:repeating-linear-gradient(180deg,#d6b041 0 2.2px,#f0d468 2.2px 3.3px)"></div>
<div class="a" style="left:189.00px;top:408.00px;width:10.00px;height:8.00px;border:2px solid #d6b041;border-radius:50%"></div>
<div class="a" style="left:211.00px;top:407.50px;width:9.00px;height:9.00px;border:2px solid #d6b041;border-radius:50%"></div>
<div class="a" style="left:211.00px;top:447.00px;width:9.00px;height:9.00px;border:2px solid #d6b041;border-radius:50%"></div>
<div class="a" style="left:178.20px;top:411.70px;width:35.20px;height:43.30px;background:linear-gradient(90deg,#fafafa,#f2f2f2 80%,#e3e3e3);border-radius:3px 6px 6px 3px"></div>
<div class="a" style="left:210.50px;top:418.00px;width:2.00px;height:2.00px;background:#333"></div>
<div class="a" style="left:210.50px;top:423.30px;width:2.00px;height:2.00px;background:#333"></div>
<div class="a" style="left:210.50px;top:428.60px;width:2.00px;height:2.00px;background:#333"></div>
<div class="a" style="left:210.50px;top:433.90px;width:2.00px;height:2.00px;background:#333"></div>
<div class="a" style="left:210.50px;top:439.20px;width:2.00px;height:2.00px;background:#333"></div>
<div class="a" style="left:210.50px;top:444.50px;width:2.00px;height:2.00px;background:#333"></div>
<div class="a" style="left:225.00px;top:424.00px;width:11.20px;height:21.70px;background:#f5f5f5;overflow:hidden"><div style="position:absolute;left:-5.25px;top:5.25px;width:21.70px;height:11.20px;line-height:11.20px;font-size:8px;font-weight:bold;color:#111;text-align:center;white-space:nowrap;transform:rotate(90deg)">Serial</div></div>
<div class="lbl" style="left:244.00px;top:399.10px;width:24.50px;height:8.40px;font-size:7.6px;line-height:8.399999999999977px;letter-spacing:0px;">BOOT</div>
<div class="lbl" style="left:244.00px;top:434.10px;width:24.50px;height:7.70px;font-size:7.8px;line-height:7.699999999999989px;letter-spacing:0px;">KEY1</div>
<div class="a" style="left:232.80px;top:414.60px;width:6.70px;height:8.40px;background:#d6b041;box-shadow:inset 0 0 0 1.5px #bfae80"></div>
<div class="a" style="left:270.00px;top:414.60px;width:8.30px;height:8.40px;background:#d6b041;box-shadow:inset 0 0 0 1.5px #bfae80"></div>
<div class="a" style="left:239.10px;top:409.60px;width:31.50px;height:19.50px;border:1px solid #cfcfcf;border-left:none;border-bottom:none"></div>
<div class="a" style="left:239.10px;top:411.10px;width:29.40px;height:17.50px;background:linear-gradient(180deg,#cbc8c3,#b9b6b1)"></div>
<div class="a" style="left:245.40px;top:417.30px;width:14.70px;height:7.00px;background:#363636"></div>
<div class="a" style="left:241.50px;top:414.60px;width:2.00px;height:11.00px;background:#3a3a3a"></div>
<div class="a" style="left:264.00px;top:414.60px;width:2.00px;height:11.00px;background:#3a3a3a"></div>
<div class="a" style="left:232.80px;top:448.20px;width:6.70px;height:8.40px;background:#d6b041;box-shadow:inset 0 0 0 1.5px #bfae80"></div>
<div class="a" style="left:270.00px;top:448.20px;width:8.30px;height:8.40px;background:#d6b041;box-shadow:inset 0 0 0 1.5px #bfae80"></div>
<div class="a" style="left:239.10px;top:443.20px;width:31.50px;height:19.50px;border:1px solid #cfcfcf;border-left:none;border-bottom:none"></div>
<div class="a" style="left:239.10px;top:444.70px;width:29.40px;height:17.50px;background:linear-gradient(180deg,#cbc8c3,#b9b6b1)"></div>
<div class="a" style="left:245.40px;top:450.90px;width:14.70px;height:7.00px;background:#363636"></div>
<div class="a" style="left:241.50px;top:448.20px;width:2.00px;height:11.00px;background:#3a3a3a"></div>
<div class="a" style="left:264.00px;top:448.20px;width:2.00px;height:11.00px;background:#3a3a3a"></div>
<div class="a" style="left:180.50px;top:446.00px;width:15.50px;height:24.00px;border-left:2px solid #3fa040;border-bottom:2px solid #3fa040;border-radius:0 0 0 14px;clip-path:inset(40% 80% 0 0)"></div>
<div class="a" style="left:189.30px;top:456.20px;width:12.20px;height:12.90px;background:#e9e2c9"></div>
<div class="a" style="left:202.00px;top:456.20px;width:12.60px;height:12.90px;background:#e9e2c9"></div>
<div class="a" style="left:190.50px;top:457.00px;width:5.50px;height:11.00px;background:#f3f3f3"></div>
<div class="a" style="left:203.00px;top:457.00px;width:5.50px;height:11.00px;background:#f3f3f3"></div>
<div class="a" style="left:191.50px;top:458.00px;width:3.00px;height:9.00px;background:repeating-linear-gradient(180deg,#555 0 1px,#ddd 1px 2px)"></div>
<div class="a" style="left:203.80px;top:458.00px;width:3.20px;height:9.00px;background:repeating-linear-gradient(180deg,#555 0 1px,#ddd 1px 2px)"></div>
<div class="a" style="left:195.20px;top:460.30px;width:4.60px;height:5.00px;background:#e01515;border-radius:50%"></div>
<div class="a" style="left:208.00px;top:460.30px;width:4.60px;height:5.00px;background:#1535e0;border-radius:50%"></div>

<!-- labels -->
<div class="t" style="left:128px;top:149px">Battery interface</div>
<div class="t" style="left:302px;top:149px">Motor interface</div>
<div class="t" style="left:458px;top:149px">Buzzer</div>
<div class="t" style="left:523.5px;top:129px;line-height:18.5px">Type-C power<br>supply interface</div>
<div class="t r" style="left:0;width:131px;top:208px;line-height:18.5px">Battery<br>charging<br>interface</div>
<div class="t r" style="left:0;width:131px;top:296px">Switch</div>
<div class="t r" style="left:0;width:131px;top:343px">Reset button</div>
<div class="t r" style="left:0;width:131px;top:381px">Lidar interface</div>
<div class="t r" style="left:0;width:131px;top:420px;line-height:18px">Type-C<br>serial port</div>
<div class="t c" style="left:10px;width:201px;top:509.5px;line-height:18.8px">Power indicator light<br>and MCU indicator<br>light</div>
<div class="t" style="left:199.5px;top:511px">BOOT button</div>
<div class="t" style="left:249.5px;top:534px">Custom buttons</div>
<div class="t" style="left:329px;top:511px">Motor interface</div>
<div class="t" style="left:466px;top:510px">Antenna interface</div>
<div class="t" style="left:622.5px;top:286px;line-height:19.5px">PWM servo<br>interface</div>
<div class="t" style="left:622.5px;top:330px;line-height:18.5px">Six-axis IMU<br>chip</div>
<div class="t" style="left:622.5px;top:413px">ESP32S3 chip</div>

<!-- lines -->
<div class="ln v" style="left:212px;top:171px;height:55px"></div>
<div class="ln v" style="left:382px;top:171px;height:29px"></div>
<div class="ln h" style="left:347px;top:199.5px;width:74px"></div>
<div class="ln v" style="left:347px;top:199.5px;height:26px"></div>
<div class="ln v" style="left:419.5px;top:199.5px;height:26px"></div>
<div class="ln v" style="left:481px;top:171px;height:56px"></div>
<div class="ln v" style="left:530.5px;top:171px;height:55px"></div>
<div class="ln h" style="left:138px;top:259.5px;width:49px"></div>
<div class="ln h" style="left:138px;top:302.5px;width:49px"></div>
<div class="ln h" style="left:138px;top:349.5px;width:49px"></div>
<div class="ln h" style="left:138px;top:387.5px;width:54px"></div>
<div class="ln h" style="left:138px;top:431.5px;width:54px"></div>
<div class="ln v" style="left:160px;top:461.5px;height:46px"></div>
<div class="ln h" style="left:160px;top:461.5px;width:30px"></div>
<div class="ln v" style="left:250px;top:424px;height:84px"></div>
<div class="ln h" style="left:261px;top:454px;width:46px"></div>
<div class="ln v" style="left:305.5px;top:454px;height:71px"></div>
<div class="ln v" style="left:345.5px;top:453px;height:26px"></div>
<div class="ln v" style="left:420px;top:453px;height:26px"></div>
<div class="ln h" style="left:345.5px;top:478.5px;width:76px"></div>
<div class="ln v" style="left:380.5px;top:478.5px;height:29px"></div>
<div class="ln v" style="left:476px;top:453px;height:55px"></div>
<div class="ln h" style="left:548px;top:297.5px;width:71px"></div>
<div class="ln h" style="left:512px;top:337.5px;width:107px"></div>
<div class="ln h" style="left:521px;top:420.5px;width:97px"></div>
</body></html>
